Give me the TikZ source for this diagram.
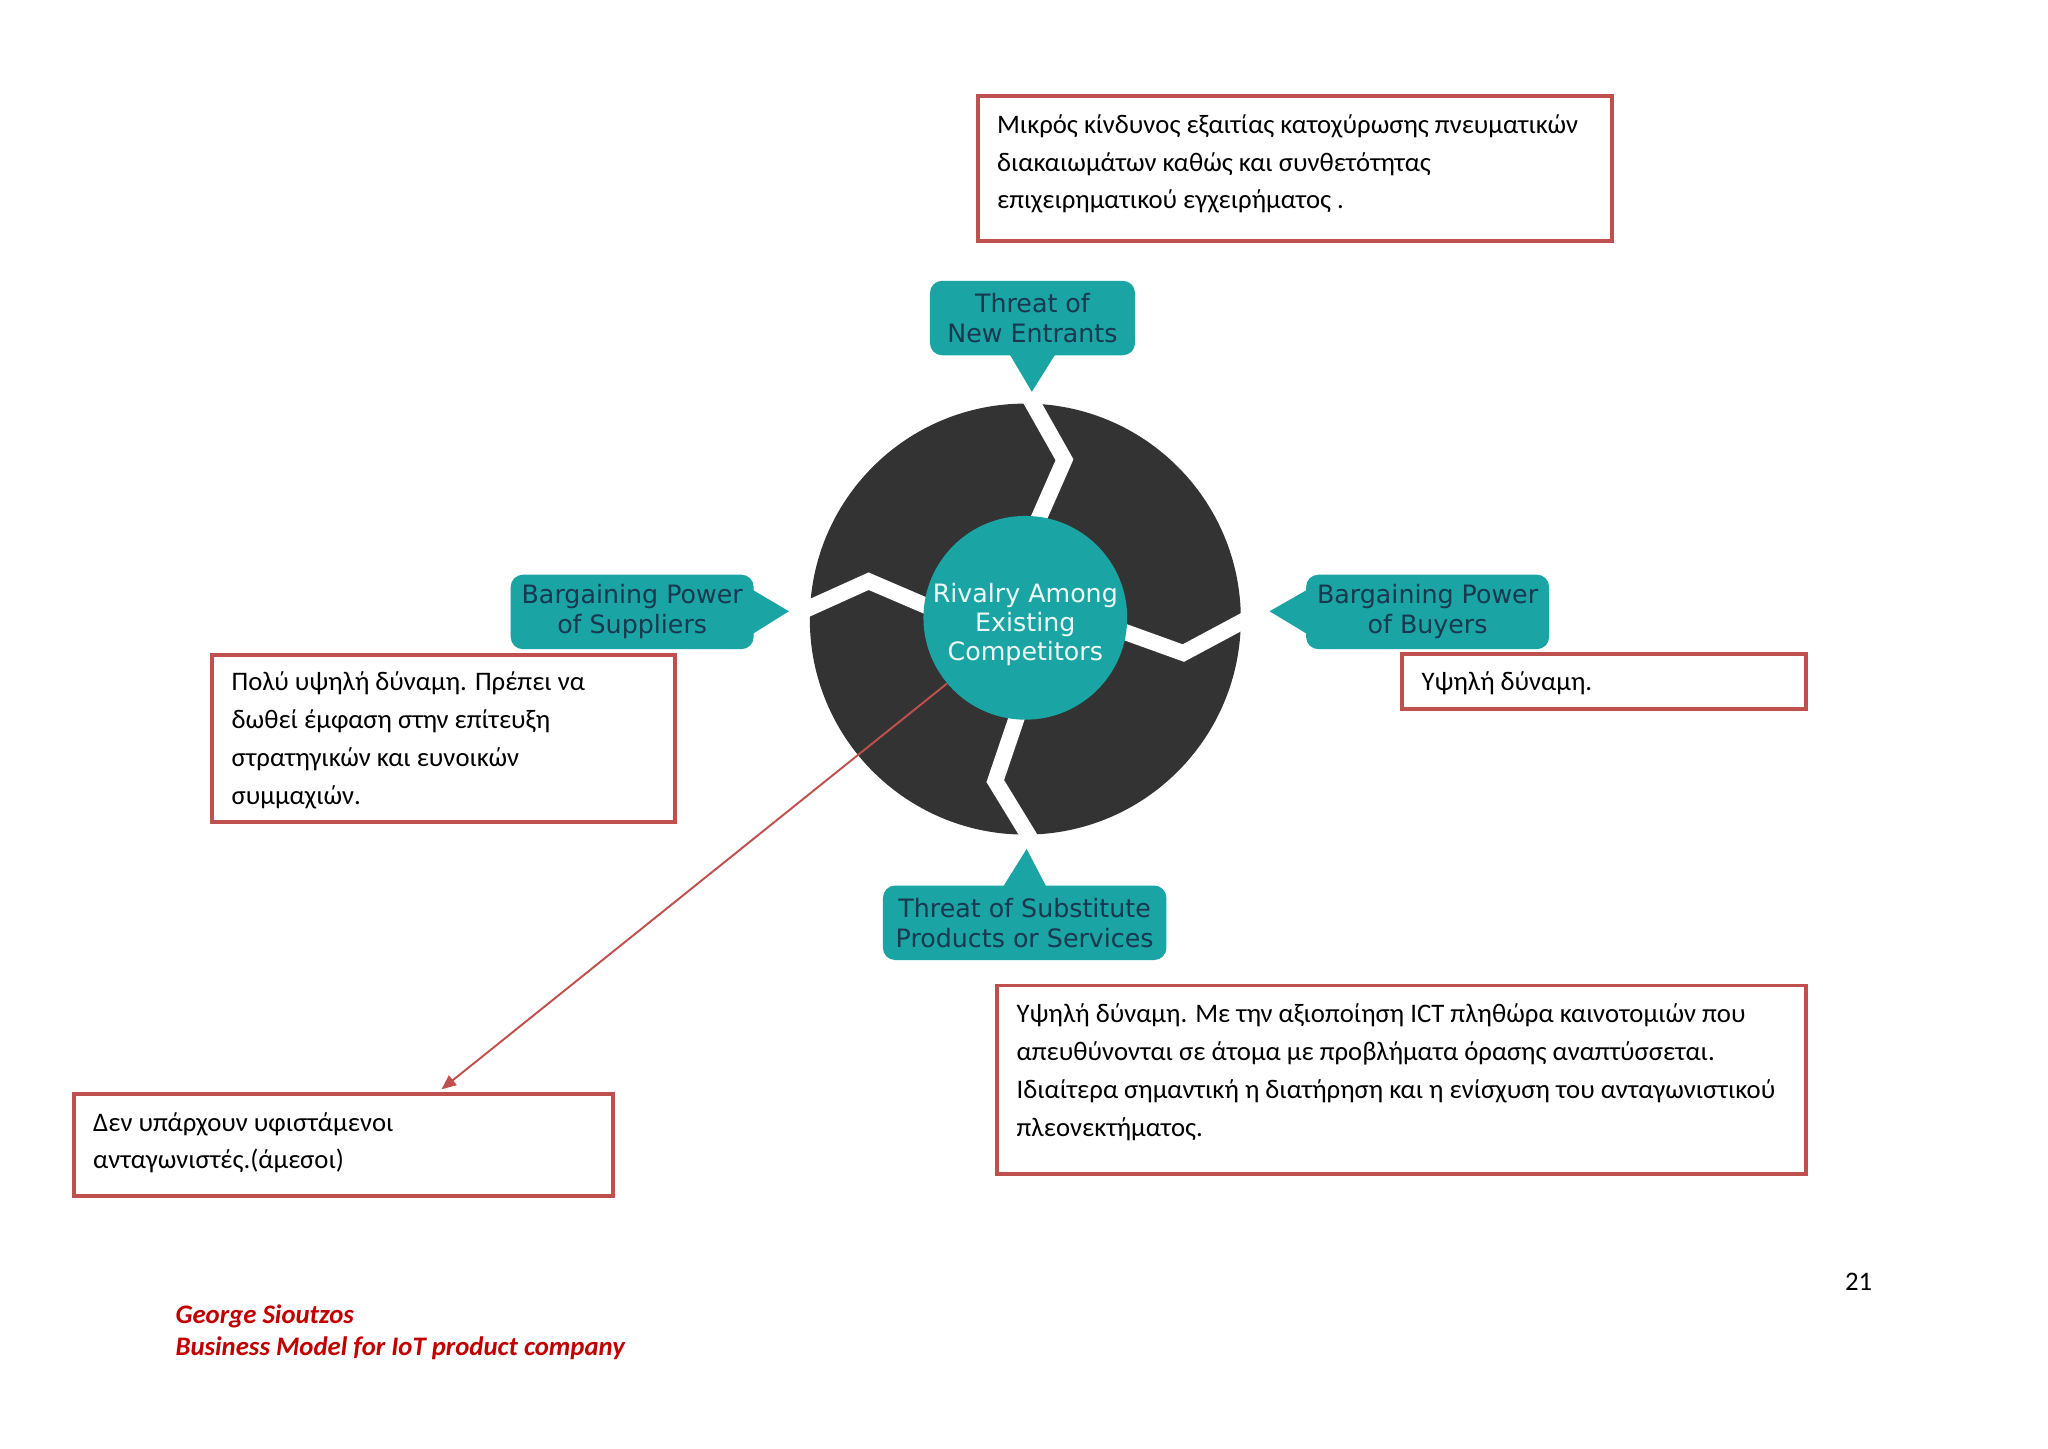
\documentclass[tikz,border=0pt]{standalone}
\usepackage{fontspec}
\setmainfont{Carlito}
\newfontfamily\calloutfont{DejaVu Sans}
\usetikzlibrary{calc,arrows.meta}
\definecolor{tealc}{RGB}{26,164,164}
\definecolor{darkc}{RGB}{51,51,51}
\definecolor{boxred}{RGB}{192,80,77}
\definecolor{navyc}{RGB}{24,56,80}
\definecolor{footred}{RGB}{192,0,0}
\newcommand\notebox[5]{\node[note, minimum width={(#4-#2)*0.537pt}, minimum height={(#5-#3)*0.537pt}, anchor=north west] (#1) at (#2,#3) {};}
\tikzset{
  callout/.style={fill=tealc, rounded corners=5pt, text=navyc, font=\calloutfont\fontsize{10.4}{12.35}\selectfont, align=center, inner sep=0pt},
  note/.style={draw=boxred, line width=1.6pt, fill=white, inner sep=0pt},
  notetext/.style={anchor=base west, align=left, font=\fontsize{11}{15.6}\selectfont, inner sep=0pt},
  gap/.style={white, line width=6.6pt, line join=miter},
}
\begin{document}
\begin{tikzpicture}[x=0.537pt,y=-0.537pt]
\useasboundingbox (0,0) rectangle (1568,1109);
\fill[white] (0,0) rectangle (1568,1109);

% wheel
\node[circle, fill=darkc, minimum size={330*0.537pt}, inner sep=0pt] (wheel) at (785,474) {};
\draw[gap] (780,290) -- (815,352) -- (793,402);
\draw[gap] (603,473) -- (665,445) -- (714,466);
\draw[gap] (856,482) -- (906,500) -- (962,470);
\draw[gap] (781,542) -- (762,598) -- (795,652);
\node[circle, fill=tealc, minimum size={156*0.537pt}, inner sep=0pt] (rival) at (785,473) {};
\node[text=white!92!tealc, align=center, inner sep=0pt,
      font=\calloutfont\fontsize{10.4}{11.8}\selectfont] (rivaltext) at (785,478) {Rivalry Among\\Existing\\Competitors};

% callouts
\node[callout, minimum width={157*0.537pt}, minimum height={57*0.537pt}] (newent) at (790.5,243.5) {Threat of\\New Entrants};
\fill[tealc] ($(newent.south)+(-18,-2)$) -- (790,300) -- ($(newent.south)+(18,-2)$) -- cycle;

\node[callout, minimum width={186*0.537pt}, minimum height={57*0.537pt}] (supp) at (484,468.5) {Bargaining Power\\of Suppliers};
\fill[tealc] ($(supp.east)+(-3,-18)$) -- (604,468) -- ($(supp.east)+(-3,18)$) -- cycle;

\node[callout, minimum width={186*0.537pt}, minimum height={57*0.537pt}] (buy) at (1093,468.5) {Bargaining Power\\of Buyers};
\fill[tealc] ($(buy.west)+(3,-18)$) -- (972,468) -- ($(buy.west)+(3,18)$) -- cycle;

\node[callout, minimum width={217*0.537pt}, minimum height={57*0.537pt}] (subst) at (784.5,706.5) {Threat of Substitute\\Products or Services};
\fill[tealc] ($(subst.north)+(-17,2)$) -- (786,650) -- ($(subst.north)+(17,2)$) -- cycle;

% note boxes (base anchor = last line baseline)
\notebox{topbox}{747}{72}{1233}{183}
\node[notetext] (toptext) at (763,160) {Μικρός κίνδυνος εξαιτίας κατοχύρωσης πνευματικών\\διακαιωμάτων καθώς και συνθετότητας\\επιχειρηματικού εγχειρήματος .};

\notebox{suppbox}{161}{500}{515}{628}
\node[notetext] (supptext) at (177,616) {Πολύ υψηλή δύναμη. Πρέπει να\\δωθεί έμφαση στην επίτευξη\\στρατηγικών και ευνοικών\\συμμαχιών.};

\notebox{buybox}{1072}{499}{1381}{541}
\node[notetext] (buytext) at (1088,529) {Υψηλή δύναμη.};

\notebox{rivbox}{55}{836}{468}{914}
\node[notetext] (rivtext) at (71,895) {Δεν υπάρχουν υφιστάμενοι\\ανταγωνιστές.(άμεσοι)};

\notebox{subbox}{762}{753}{1381}{897}
\node[notetext] (subtext) at (778,870) {Υψηλή δύναμη. Με την αξιοποίηση ICT πληθώρα καινοτομιών που\\απευθύνονται σε άτομα με προβλήματα όρασης αναπτύσσεται.\\Ιδιαίτερα σημαντική η διατήρηση και η ενίσχυση του ανταγωνιστικού\\πλεονεκτήματος.};

% connector
\coordinate (arrowend) at (338,834);
\draw[boxred, line width=0.8pt, -{Triangle[length=6pt,width=5pt]}] (rival.220) -- (arrowend);

% footer
\node[anchor=base, inner sep=0pt, font=\fontsize{11}{13}\selectfont] (pnum) at (1423,988) {21};
\node[anchor=base west, align=left, inner sep=0pt, text=footred, font=\bfseries\itshape\fontsize{11}{13.4}\selectfont] (footer) at (134,1038) {George Sioutzos\\Business Model for IoT product company};
\end{tikzpicture}
\end{document}
